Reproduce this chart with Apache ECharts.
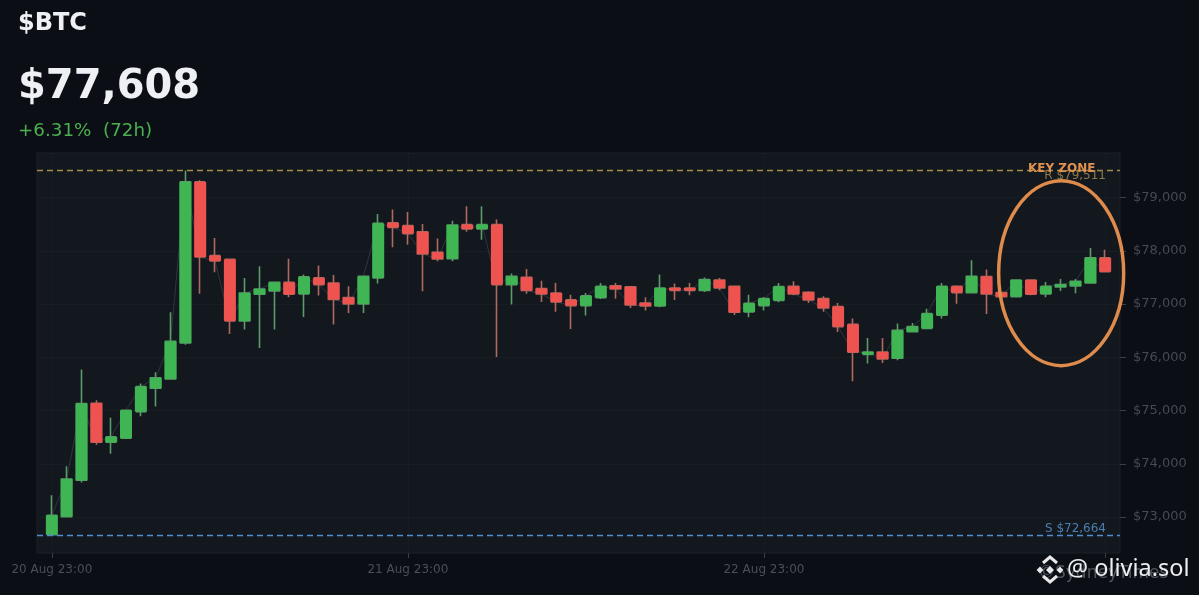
<!DOCTYPE html>
<html>
<head>
<meta charset="utf-8">
<style>html,body{margin:0;padding:0;background:#0b0e14;width:1199px;height:595px;overflow:hidden}#c{width:1199px;height:595px}</style>
<script src="https://cdn.jsdelivr.net/npm/echarts@6/dist/echarts.min.js"></script>
</head>
<body>
<div id="c"></div>
<script>
const opens = [72671,73009,73691,75137,74405,74480,74981,75419,75595,76271,79295,77911,77841,76684,77184,77248,77409,77191,77492,77398,77122,77004,77492,78525,78474,78356,77973,77854,78493,78412,78493,77366,77503,77291,77210,77079,76972,77122,77342,77323,77022,76966,77304,77304,77259,77454,77334,76853,76972,77071,77334,77222,77103,76953,76621,76057,76102,75982,76483,76545,76790,77334,77216,77516,77216,77141,77454,77191,77323,77342,77398,77868];
const closes = [73034,73717,75131,74405,74506,75006,75451,75614,76301,79295,77886,77811,76684,77210,77285,77409,77184,77511,77366,77090,77004,77522,78517,78442,78324,77943,77849,78487,78412,78493,77366,77522,77259,77191,77041,76972,77154,77334,77285,76985,76966,77304,77259,77259,77460,77304,76846,77015,77103,77329,77191,77079,76929,76577,76095,76102,75971,76508,76577,76822,77334,77216,77522,77191,77141,77454,77184,77334,77366,77428,77868,77608];
const lows = [72664,73009,73648,74361,74192,74474,74893,75075,75582,76239,77197,77597,76440,76521,76177,76521,77128,76760,77160,76615,76835,76835,77385,78067,78117,77240,77804,77804,78361,78211,76008,76991,77197,77041,76859,76534,76784,77098,77103,76929,76878,76940,77079,77165,77229,77259,76797,76752,76878,77034,77165,77022,76859,76478,75550,75883,75896,75945,76470,76540,76728,77009,77203,76816,77122,77135,77165,77128,77248,77203,77391,77605];
const highs = [73409,73954,75770,75193,74868,75020,75507,75719,76846,79511,79325,78243,77854,77492,77710,77423,77854,77554,77723,77548,77334,77535,78694,78775,78731,78506,78230,78568,78837,78837,78587,77573,77661,77441,77398,77178,77210,77398,77398,77334,77128,77554,77385,77398,77498,77492,77347,77178,77135,77398,77428,77240,77146,77022,76728,76365,76365,76634,76647,76915,77398,77353,77822,77648,77225,77460,77460,77417,77473,77473,78055,78023];
const yTicks = [73000,74000,75000,76000,77000,78000,79000];
const resistance = 79511, support = 72664;
const dateLabels = {1:'20 Aug 23:00',25:'21 Aug 23:00',49:'22 Aug 23:00'};
const tickSlots = [1,25,49,72];

const GREEN='#3fb553', RED='#ef5350', BG='#0b0e14';
const GREEN_WICK='#5a9c6a', RED_WICK='#b0695f';
const cats=[''];
opens.forEach((_,i)=>cats.push(dateLabels[i+1]||('c'+i)));
cats.push('');
const pad=a=>['-',...a,'-'];
const candles=['-',...opens.map((o,i)=>[o,closes[i],lows[i],highs[i]]),'-'];
const bodies=opens.map((o,i)=>[i+1,o,closes[i]]);

const chart=echarts.init(document.getElementById('c'),null,{renderer:'canvas'});
const FONT='"DejaVu Sans"';
chart.setOption({
  animation:false,
  backgroundColor:BG,
  grid:{left:37,top:153,width:1083,height:400,show:true,backgroundColor:'#13171e',borderColor:'#1d2229',borderWidth:1},
  xAxis:{type:'category',data:cats,boundaryGap:false,
    axisLine:{show:false},
    axisTick:{show:true,length:5,lineStyle:{color:'#3a3f47'},interval:i=>tickSlots.includes(i)},
    axisLabel:{color:'#4a4f58',fontFamily:FONT,fontSize:12,margin:11,interval:i=>!!dateLabels[i],formatter:v=>v},
    splitLine:{show:true,interval:i=>tickSlots.includes(i),lineStyle:{color:'rgba(255,255,255,0.02)'}}
  },
  yAxis:{type:'value',position:'right',min:72326,max:79838,scale:true,
    axisLine:{show:false},
    axisTick:{show:true,length:6,lineStyle:{color:'#3a3f47'},customValues:yTicks},
    axisLabel:{color:'#454a53',fontFamily:FONT,fontSize:13,margin:13,customValues:yTicks,formatter:v=>'$'+v.toLocaleString('en-US')},
    splitLine:{show:true,lineStyle:{color:'rgba(255,255,255,0.022)'}}
  },
  series:[
    {type:'line',data:pad(closes),showSymbol:false,symbol:'none',lineStyle:{color:'rgba(200,205,215,0.16)',width:1},z:1,silent:true,connectNulls:false},
    {type:'candlestick',data:candles,barWidth:10,z:2,
      itemStyle:{color:GREEN,color0:RED,borderColor:GREEN_WICK,borderColor0:RED_WICK,borderWidth:1.6},
      markLine:{silent:true,symbol:'none',animation:false,
        data:[
          {yAxis:resistance,lineStyle:{color:'#a38f4c',type:[6,4],width:1.3},label:{show:true,position:'insideEndBottom',distance:[14,-1],formatter:'R $79,511',color:'#8c7a45',fontFamily:FONT,fontSize:12}},
          {yAxis:support,lineStyle:{color:'#4f8fd0',type:[6,4],width:1.3},label:{show:true,position:'insideEndTop',distance:[14,0],formatter:'S $72,664',color:'#4c7fb0',fontFamily:FONT,fontSize:12}}
        ]}
    },
    {type:'custom',data:bodies,z:3,silent:true,
      encode:{x:0,y:[1,2]},
      renderItem:(p,api)=>{
        const a=api.coord([api.value(0),api.value(1)]), b=api.coord([api.value(0),api.value(2)]);
        const up=api.value(2)>=api.value(1);
        const top=Math.min(a[1],b[1]), h=Math.max(Math.abs(a[1]-b[1]),2);
        return {type:'rect',shape:{x:a[0]-6,y:top,width:12,height:h},style:{fill:up?GREEN:RED}};
      }}
  ]
});

const cx=chart.convertToPixel({xAxisIndex:0},69), cy=chart.convertToPixel({yAxisIndex:0},77582);
const g=(text,x,y,font,fill,extra)=>({type:'text',x,y,z:50,style:Object.assign({text,font,fill,textVerticalAlign:'middle'},extra||{})});
const LX=1050, LY=569;
const diamond=(dx,dy,r)=>({type:'polygon',z:60,shape:{points:[[LX+dx,LY+dy-r],[LX+dx+r,LY+dy],[LX+dx,LY+dy+r],[LX+dx-r,LY+dy]]},style:{fill:'#e8e9ea'}});
const chevron=(pts)=>({type:'polyline',z:60,shape:{points:pts.map(([dx,dy])=>[LX+dx,LY+dy])},style:{fill:'none',stroke:'#e8e9ea',lineWidth:3}});
chart.setOption({graphic:{elements:[
  g('$BTC',18,24,'bold 24px "DejaVu Sans"','#eef0f4'),
  g('$77,608',18,88,'bold 40px "DejaVu Sans"','#eef0f4'),
  g('+6.31%  (72h)',18,131,'18.3px "DejaVu Sans"','#4caf50'),
  {type:'ellipse',z:40,shape:{cx:cx+0.5,cy,rx:62.5,ry:92.5},style:{fill:'none',stroke:'#df8b4c',lineWidth:3.5}},
  g('KEY ZONE',1028,169,'bold 12px "DejaVu Sans"','#e0914f'),
  g('©SydneyTimes',1038,574,'17px "DejaVu Sans"','rgba(150,155,165,0.5)'),
  chevron([[-7,-6],[0,-12],[7,-6]]),
  diamond(-10,1,3.4),diamond(10,1,3.4),diamond(0,1,4),
  chevron([[-7,7],[0,13],[7,7]]),
  g('@ olivia.sol',1067,569,'23.5px "Noto Sans"','#eceef0',{z:60})
]}});
</script>
</body>
</html>
